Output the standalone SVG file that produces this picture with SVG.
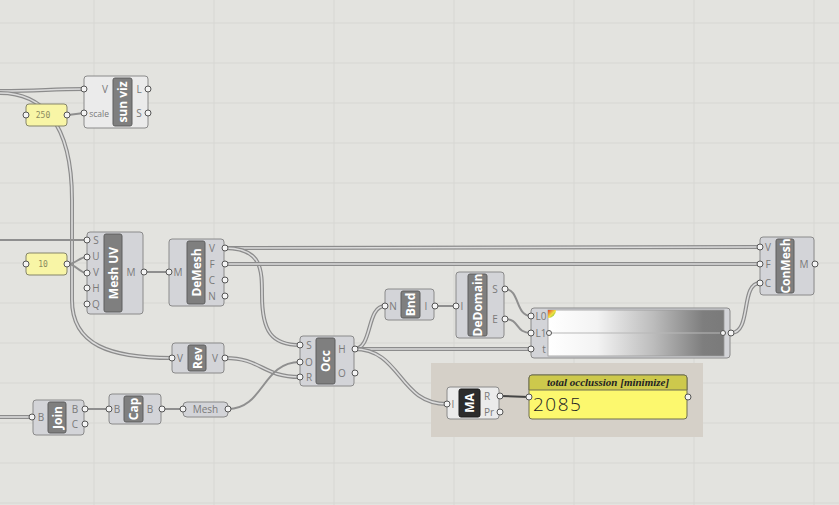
<svg xmlns="http://www.w3.org/2000/svg" xmlns:xlink="http://www.w3.org/1999/xlink" width="839" height="505" viewBox="0 0 839 505">
<style>
.grid{stroke:#d7d7d3;stroke-width:1;fill:none}
.w{fill:none;stroke:#8f8f8f;stroke-width:2}
.wd{fill:none;stroke:#8c8c8c;stroke-width:4}
.wi{fill:none;stroke:#dcdcdc;stroke-width:1.6}
.box{fill:#d3d4d8;stroke:#8a8a8a;stroke-width:1}
.boxl{fill:#ebebeb;stroke:#8a8a8a;stroke-width:1}
.bar{fill:#7f7f7f;stroke:#5e5e5e;stroke-width:1}
.barb{fill:#2c2c2c;stroke:#1a1a1a;stroke-width:1}
.port{fill:#f4f4f4;stroke:#555;stroke-width:1}
.lbl{font-family:"Open Sans","Liberation Sans",sans-serif;font-size:10px;fill:#7a7a7a;text-anchor:middle}
.nm{font-family:"Open Sans","Liberation Sans",sans-serif;font-size:12px;font-weight:bold;fill:#fff;text-anchor:middle}
.pan{fill:#f8f5a6;stroke:#85856a;stroke-width:1}
.pt{font-family:"DejaVu Sans Mono",monospace;font-size:8px;fill:#8a8a60;text-anchor:middle}
</style>
<defs>
<linearGradient id="grad" x1="0" y1="0" x2="1" y2="0">
<stop offset="0" stop-color="#ffffff"/>
<stop offset="0.28" stop-color="#f3f3f3"/>
<stop offset="0.6" stop-color="#bcbcbc"/>
<stop offset="0.88" stop-color="#7e7e7e"/>
<stop offset="1" stop-color="#7a7a7a"/>
</linearGradient>
<linearGradient id="wedge" x1="0" y1="0" x2="1" y2="1">
<stop offset="0" stop-color="#e04030"/>
<stop offset="0.5" stop-color="#f0e040"/>
<stop offset="1" stop-color="#40b040"/>
</linearGradient>
<path id="d1" d="M0,91 C40,91 50,89 84,89"/>
<path id="d2" d="M0,93 C40,93 72,120 72,200 L72,300 C72,345 110,358 172,358"/>
<path id="d3" d="M225,248 L760,247"/>
<path id="d4" d="M225,248 C262,248 262,270 262,295 C262,332 272,345 300,345"/>
<path id="d5" d="M225,264 L760,264"/>
<path id="d6" d="M225,358 C262,358 262,377 300,377"/>
<path id="d7" d="M0,417 L32,417"/>
<path id="d8" d="M354,349 C373,349 366,306 385,306"/>
<path id="d9" d="M354,349 L531,349"/>
<path id="d10" d="M354,349 C402,349 398,404 447,404"/>
<path id="d11" d="M731,333 C752,333 740,283 760,283"/>
</defs>
<rect x="0" y="0" width="839" height="505" fill="#e3e3df"/>
<g id="grid">
<path class="grid" d="M94,0V505M214,0V505M334,0V505M454,0V505M574,0V505M694,0V505M814,0V505"/>
<path class="grid" d="M0,23H839M0,63H839M0,103H839M0,143H839M0,183H839M0,223H839M0,263H839M0,303H839M0,343H839M0,383H839M0,423H839M0,463H839M0,503H839"/>
</g>
<rect id="group" x="431" y="363" width="272" height="74" fill="#d5d0c8"/>
<g id="connectors">
<use href="#d1" class="wd"/><use href="#d1" class="wi"/>
<use href="#d2" class="wd"/><use href="#d2" class="wi"/>
<use href="#d3" class="wd"/><use href="#d3" class="wi"/>
<use href="#d4" class="wd"/><use href="#d4" class="wi"/>
<use href="#d5" class="wd"/><use href="#d5" class="wi"/>
<use href="#d6" class="wd"/><use href="#d6" class="wi"/>
<use href="#d7" class="wd"/><use href="#d7" class="wi"/>
<use href="#d8" class="wd"/><use href="#d8" class="wi"/>
<use href="#d9" class="wd"/><use href="#d9" class="wi"/>
<use href="#d10" class="wd"/><use href="#d10" class="wi"/>
<use href="#d11" class="wd"/><use href="#d11" class="wi"/>
<path class="w" d="M68,115 L84,113"/>
<path class="w" d="M0,240 L87,240"/>
<path class="w" d="M68,264 C76,264 79,257 87,257"/>
<path class="w" d="M68,264 C76,264 79,273 87,273"/>
<path class="w" d="M144,272 L169,272"/>
<path class="w" d="M228,409 C264,409 262,362 300,362"/>
<path class="w" d="M85,409 L109,409"/>
<path class="w" d="M162,409 L183,409"/>
<path class="w" d="M435,306 L456,306"/>
<path class="w" d="M505,289 C520,289 515,316 531,316"/>
<path class="w" d="M505,319 C520,319 515,333 531,333"/>
<path d="M500,396 L529,397" fill="none" stroke="#444" stroke-width="2"/>
</g>
<g id="panel250">
<rect class="pan" x="26" y="104" width="41" height="22" rx="3"/>
<text class="pt" x="43" y="118">250</text>
<circle class="port" cx="26" cy="115" r="3"/><circle class="port" cx="67" cy="115" r="3"/>
</g>
<g id="sunviz">
<rect class="boxl" x="84" y="76" width="64" height="52" rx="3"/>
<rect class="bar" x="113" y="78" width="19" height="48" rx="2"/>
<text class="nm" transform="translate(126.5,102) rotate(-90)">sun viz</text>
<text class="lbl" x="105" y="93">V</text>
<text class="lbl" x="109" y="116.5" style="text-anchor:end;font-size:8.5px">scale</text>
<text class="lbl" x="139" y="93">L</text>
<text class="lbl" x="139" y="117">S</text>
<circle class="port" cx="84" cy="89" r="3"/><circle class="port" cx="84" cy="113" r="3"/>
<circle class="port" cx="148" cy="89" r="3"/><circle class="port" cx="148" cy="113" r="3"/>
</g>
<g id="panel10">
<rect class="pan" x="26" y="253" width="41" height="22" rx="3"/>
<text class="pt" x="43" y="267">10</text>
<circle class="port" cx="26" cy="264" r="3"/><circle class="port" cx="67" cy="264" r="3"/>
</g>
<g id="meshuv">
<rect class="box" x="87" y="232" width="56" height="82" rx="3"/>
<rect class="bar" x="104" y="234" width="18" height="78" rx="2"/>
<text class="nm" transform="translate(117.5,273) rotate(-90)">Mesh UV</text>
<text class="lbl" x="96" y="244">S</text>
<text class="lbl" x="96" y="260">U</text>
<text class="lbl" x="96" y="276">V</text>
<text class="lbl" x="96" y="292">H</text>
<text class="lbl" x="96" y="308">Q</text>
<text class="lbl" x="131" y="276">M</text>
<circle class="port" cx="87" cy="240" r="3"/><circle class="port" cx="87" cy="257" r="3"/><circle class="port" cx="87" cy="273" r="3"/><circle class="port" cx="87" cy="288" r="3"/><circle class="port" cx="87" cy="304" r="3"/>
<circle class="port" cx="144" cy="272" r="3"/>
</g>
<g id="demesh">
<rect class="box" x="169" y="239" width="55" height="67" rx="3"/>
<rect class="bar" x="187" y="241" width="18" height="63" rx="2"/>
<text class="nm" transform="translate(200.5,272.5) rotate(-90)">DeMesh</text>
<text class="lbl" x="178" y="276">M</text>
<text class="lbl" x="212" y="252">V</text>
<text class="lbl" x="212" y="268">F</text>
<text class="lbl" x="212" y="284">C</text>
<text class="lbl" x="212" y="300">N</text>
<circle class="port" cx="169" cy="272" r="3"/>
<circle class="port" cx="225" cy="248" r="3"/><circle class="port" cx="225" cy="264" r="3"/><circle class="port" cx="225" cy="280" r="3"/><circle class="port" cx="225" cy="296" r="3"/>
</g>
<g id="conmesh">
<rect class="box" x="760" y="237" width="54" height="58" rx="3"/>
<rect class="bar" x="776" y="239" width="18" height="54" rx="2"/>
<text class="nm" transform="translate(789.5,266) rotate(-90)">ConMesh</text>
<text class="lbl" x="768" y="251">V</text>
<text class="lbl" x="768" y="268">F</text>
<text class="lbl" x="768" y="287">C</text>
<text class="lbl" x="804" y="268">M</text>
<circle class="port" cx="760" cy="247" r="3"/><circle class="port" cx="760" cy="264" r="3"/><circle class="port" cx="760" cy="283" r="3"/>
<circle class="port" cx="815" cy="264" r="3"/>
</g>
<g id="rev">
<rect class="box" x="172" y="343" width="52" height="30" rx="3"/>
<rect class="bar" x="188" y="345" width="18" height="26" rx="2"/>
<text class="nm" transform="translate(201.5,358) rotate(-90)">Rev</text>
<text class="lbl" x="180" y="362">V</text>
<text class="lbl" x="215" y="362">V</text>
<circle class="port" cx="172" cy="358" r="3"/><circle class="port" cx="225" cy="358" r="3"/>
</g>
<g id="occ">
<rect class="box" x="300" y="336" width="54" height="50" rx="3"/>
<rect class="bar" x="316" y="338" width="19" height="46" rx="2"/>
<text class="nm" transform="translate(330,361) rotate(-90)">Occ</text>
<text class="lbl" x="309" y="349">S</text>
<text class="lbl" x="309" y="366">O</text>
<text class="lbl" x="309" y="381">R</text>
<text class="lbl" x="342" y="353">H</text>
<text class="lbl" x="342" y="377">O</text>
<circle class="port" cx="300" cy="345" r="3"/><circle class="port" cx="300" cy="362" r="3"/><circle class="port" cx="300" cy="377" r="3"/>
<circle class="port" cx="355" cy="349" r="3"/><circle class="port" cx="355" cy="373" r="3"/>
</g>
<g id="bnd">
<rect class="box" x="385" y="289" width="49" height="31" rx="3"/>
<rect class="bar" x="401" y="291" width="19" height="27" rx="2"/>
<text class="nm" transform="translate(415,304.5) rotate(-90)">Bnd</text>
<text class="lbl" x="393" y="310">N</text>
<text class="lbl" x="426" y="310">I</text>
<circle class="port" cx="385" cy="306" r="3"/><circle class="port" cx="435" cy="306" r="3"/>
</g>
<g id="dedomain">
<rect class="box" x="456" y="272" width="48" height="66" rx="3"/>
<rect class="bar" x="468" y="274" width="19" height="62" rx="2"/>
<text class="nm" transform="translate(482,305) rotate(-90)">DeDomain</text>
<text class="lbl" x="462" y="310">I</text>
<text class="lbl" x="495" y="293">S</text>
<text class="lbl" x="495" y="323">E</text>
<circle class="port" cx="456" cy="306" r="3"/>
<circle class="port" cx="505" cy="289" r="3"/><circle class="port" cx="505" cy="319" r="3"/>
</g>
<g id="gradient">
<rect class="box" x="531" y="308" width="199" height="50" rx="3"/>
<rect x="548" y="310" width="176" height="46" fill="url(#grad)" stroke="#9a9a9a" stroke-width="0.8"/>
<path d="M548,310 L556,310 A8,8 0 0 1 548,318 Z" fill="url(#wedge)"/>
<line x1="549" y1="333" x2="723" y2="333" stroke="#b8b8b8" stroke-width="1.2"/>
<circle class="port" cx="549" cy="333" r="2.5"/><circle class="port" cx="723" cy="333" r="2.5"/>
<text class="lbl" x="541" y="320">L0</text>
<text class="lbl" x="541" y="337">L1</text>
<text class="lbl" x="544" y="353">t</text>
<circle class="port" cx="531" cy="316" r="3"/><circle class="port" cx="531" cy="333" r="3"/><circle class="port" cx="531" cy="349" r="3"/>
<circle class="port" cx="731" cy="333" r="3"/>
</g>
<g id="join">
<rect class="box" x="33" y="400" width="51" height="35" rx="3"/>
<rect class="bar" x="48" y="402" width="18" height="31" rx="2"/>
<text class="nm" transform="translate(61.5,417.5) rotate(-90)">Join</text>
<text class="lbl" x="41" y="421">B</text>
<text class="lbl" x="75" y="413">B</text>
<text class="lbl" x="75" y="428">C</text>
<circle class="port" cx="32" cy="417" r="3"/>
<circle class="port" cx="85" cy="409" r="3"/><circle class="port" cx="85" cy="424" r="3"/>
</g>
<g id="cap">
<rect class="box" x="109" y="394" width="52" height="30" rx="3"/>
<rect class="bar" x="124" y="396" width="19" height="26" rx="2"/>
<text class="nm" transform="translate(138,409) rotate(-90)">Cap</text>
<text class="lbl" x="117" y="413">B</text>
<text class="lbl" x="150" y="413">B</text>
<circle class="port" cx="109" cy="409" r="3"/><circle class="port" cx="162" cy="409" r="3"/>
</g>
<g id="meshparam">
<rect class="box" x="183" y="402" width="45" height="15" rx="4"/>
<text class="lbl" x="205.5" y="413">Mesh</text>
<circle class="port" cx="183" cy="409" r="3"/><circle class="port" cx="228" cy="409" r="3"/>
</g>
<g id="ma">
<rect class="boxl" x="447" y="387" width="52" height="32" rx="3"/>
<rect class="barb" x="459" y="389" width="21" height="28" rx="2"/>
<text class="nm" transform="translate(474,403) rotate(-90)">MA</text>
<text class="lbl" x="453" y="408">I</text>
<text class="lbl" x="487" y="400">R</text>
<text class="lbl" x="489" y="416">Pr</text>
<circle class="port" cx="447" cy="404" r="3"/>
<circle class="port" cx="500" cy="396" r="3"/><circle class="port" cx="500" cy="412" r="3"/>
</g>
<g id="panelOcc">
<rect x="529" y="375" width="158" height="44" rx="3" fill="#fcf86e" stroke="#6f6f50" stroke-width="1"/>
<path d="M532,375 H684 A3,3 0 0 1 687,378 V390 H529 V378 A3,3 0 0 1 532,375 Z" fill="#cdc94c" stroke="#6f6f50" stroke-width="1"/>
<text x="608" y="386" font-family="'Liberation Serif',serif" font-size="11" font-style="italic" font-weight="bold" fill="#222" text-anchor="middle">total occlussion [minimize]</text>
<text x="533" y="411" font-family="'Open Sans','Liberation Sans',sans-serif" font-size="19" font-weight="300" fill="#222" letter-spacing="1.5">2085</text>
<circle class="port" cx="529" cy="397" r="3"/><circle class="port" cx="688" cy="397" r="3"/>
</g>
</svg>
